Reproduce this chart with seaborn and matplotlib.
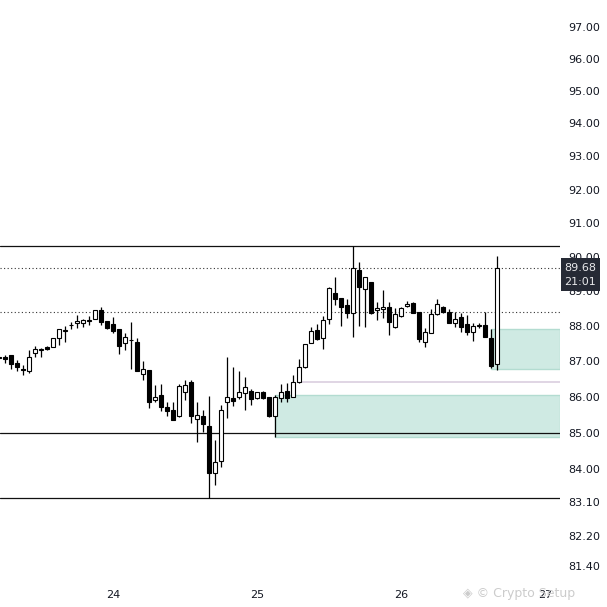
import matplotlib
matplotlib.use("Agg")
import matplotlib.pyplot as plt
from matplotlib.patches import Rectangle
from matplotlib.ticker import FixedLocator, FixedFormatter, NullLocator, NullFormatter
import pandas as pd
import seaborn as sns

# hourly candles, hour offset from the 24th 00:00
hours = list(range(-19, 65))
opens = [87.12, 87.12, 87.18, 86.96, 86.78, 86.73, 87.24, 87.33, 87.41, 87.40,
         87.65, 87.86, 88.02, 88.08, 88.08, 88.15, 88.20, 88.46, 88.15, 88.06,
         87.91, 87.53, 87.61, 87.55, 86.63, 86.75, 85.92, 86.05, 85.72, 85.63,
         85.45, 86.14, 86.42, 85.37, 85.47, 85.19, 83.88, 84.23, 85.85, 85.96,
         86.00, 86.10, 86.17, 85.96, 86.12, 86.00, 85.45, 85.96, 86.16, 86.00,
         86.40, 86.83, 87.53, 87.89, 87.65, 88.20, 88.95, 88.80, 88.61, 88.37,
         89.62, 89.06, 89.27, 88.46, 88.48, 88.56, 87.98, 88.30, 88.57, 88.66,
         88.40, 87.56, 87.81, 88.34, 88.54, 88.40, 88.10, 88.25, 88.06, 87.84,
         88.00, 88.03, 87.65, 86.92]
highs = [87.15, 87.18, 87.18, 87.03, 86.89, 87.32, 87.42, 87.37, 87.43, 87.67,
         87.92, 88.00, 88.12, 88.32, 88.19, 88.29, 88.47, 88.56, 88.16, 88.25,
         87.92, 87.80, 88.13, 87.65, 87.01, 86.76, 86.34, 86.36, 85.85, 85.86,
         86.36, 86.47, 86.47, 85.86, 85.63, 86.02, 84.80, 85.77, 87.12, 86.83,
         86.72, 86.56, 86.21, 86.14, 86.15, 86.00, 86.05, 86.35, 86.38, 86.61,
         87.06, 87.50, 87.98, 88.06, 88.30, 89.14, 89.43, 88.80, 88.77, 90.33,
         89.87, 89.42, 89.28, 88.70, 89.04, 88.69, 88.53, 88.56, 88.72, 88.68,
         88.41, 87.94, 88.48, 88.77, 88.58, 88.48, 88.40, 88.37, 88.32, 88.10,
         88.10, 88.40, 87.91, 90.04]
lows = [87.08, 86.96, 86.79, 86.73, 86.61, 86.68, 87.13, 87.13, 87.33, 87.39,
        87.46, 87.56, 87.91, 87.96, 87.97, 88.03, 88.19, 88.03, 87.93, 87.80,
        87.21, 87.32, 86.77, 86.72, 86.47, 85.68, 85.84, 85.60, 85.47, 85.36,
        85.43, 85.91, 85.28, 84.74, 85.03, 83.21, 83.57, 84.06, 85.42, 85.75,
        85.93, 85.63, 85.77, 85.94, 85.95, 85.44, 84.89, 85.84, 85.85, 85.98,
        86.38, 86.81, 87.52, 87.60, 87.35, 88.06, 88.61, 88.00, 88.24, 87.68,
        88.00, 87.98, 88.36, 88.18, 88.22, 87.75, 87.95, 88.27, 88.56, 88.37,
        87.56, 87.41, 87.80, 88.33, 88.38, 88.08, 87.97, 87.84, 87.75, 87.58,
        87.94, 87.70, 86.80, 86.75]
closes = [87.10, 87.07, 86.93, 86.83, 86.76, 87.12, 87.35, 87.36, 87.36, 87.66,
          87.91, 87.88, 88.04, 88.15, 88.18, 88.17, 88.46, 88.13, 87.94, 87.87,
          87.43, 87.68, 87.59, 86.73, 86.77, 85.86, 86.00, 85.70, 85.61, 85.36,
          86.31, 86.32, 85.47, 85.50, 85.24, 83.88, 84.20, 85.63, 85.98, 85.89,
          86.13, 86.28, 85.95, 86.12, 85.96, 85.45, 85.99, 86.12, 85.96, 86.40,
          86.83, 87.48, 87.85, 87.62, 88.18, 89.09, 88.77, 88.56, 88.39, 89.67,
          89.14, 89.41, 88.37, 88.51, 88.55, 88.11, 88.34, 88.53, 88.63, 88.39,
          87.63, 87.82, 88.34, 88.63, 88.40, 88.10, 88.20, 87.98, 87.84, 88.01,
          88.02, 87.70, 86.87, 89.68]

# horizontal levels
solid_levels = [90.33, 85.00, 83.21]
dotted_levels = [89.68, 88.41]
pink_level = 86.40
pink_start = 31

# shaded zones
zone_start = [27, 63]
zone_low = [84.88, 86.77]
zone_high = [86.05, 87.92]

# axis labels
price_ticks = [97, 96, 95, 94, 93, 92, 91, 90, 89, 88, 87, 86, 85, 84, 83.10, 82.20, 81.40]
day_ticks = [0, 24, 48, 72]
day_labels = ["24", "25", "26", "27"]
last_price = "89.68"
countdown = "21:01"

sns.set_style("white")
plt.rcParams["font.family"] = ["DejaVu Sans"]

df = pd.DataFrame({"h": hours, "o": opens, "hi": highs, "lo": lows, "c": closes})
df["bull"] = df["c"] >= df["o"]
df["bottom"] = df[["o", "c"]].min(axis=1)
df["size"] = (df["c"] - df["o"]).abs().clip(lower=0.015)

fig = plt.figure(figsize=(6.07, 6.07), dpi=100)
ax = fig.add_axes([0, 24 / 607, 560 / 607, 583 / 607])
ax.set_yscale("log")
x0, x1 = -113 / 6, 447 / 6
ax.set_xlim(x0, x1)
ax.set_ylim(80.94, 97.856)

# zones
for s, lo, hi in zip(zone_start, zone_low, zone_high):
    ax.add_patch(Rectangle((s, lo), x1 - s, hi - lo, facecolor="#cfeae3",
                           edgecolor="#b3dcd1", linewidth=1, zorder=1))
ax.hlines(pink_level, pink_start, x1, color="#e0d5e4", linewidth=1.4, zorder=1)

for lv in solid_levels:
    ax.axhline(lv, color="#111111", linewidth=0.9, zorder=2)
for lv in dotted_levels:
    ax.axhline(lv, color="#333333", linewidth=0.8, linestyle=(0, (1, 2.2)), zorder=2)

# candles
ax.vlines(df["h"], df["lo"], df["hi"], color="black", linewidth=0.9, zorder=3)
colors = ["white" if b else "black" for b in df["bull"]]
ax.bar(df["h"], df["size"], bottom=df["bottom"], width=0.62, color=colors,
       edgecolor="black", linewidth=0.8, zorder=4)

# axes styling
for sp in ax.spines.values():
    sp.set_visible(False)
ax.yaxis.tick_right()
ax.yaxis.set_major_locator(FixedLocator(price_ticks))
ax.yaxis.set_major_formatter(FixedFormatter([f"{p:.2f}" for p in price_ticks]))
ax.yaxis.set_minor_locator(NullLocator())
ax.yaxis.set_minor_formatter(NullFormatter())
ax.tick_params(axis="y", length=0, pad=6, labelsize=8, labelcolor="#131722")
ax.set_xticks(day_ticks)
ax.set_xticklabels(day_labels)
ax.tick_params(axis="x", length=0, pad=5, labelsize=8, labelcolor="#131722")
ax.grid(False)

# watermark (sits behind the last day label, as in the source)
fig.text(463 / 607, 1 - 593 / 607, "\u25c8 \u00a9 Crypto Setup", color="#cccccc",
         fontsize=9, ha="left", va="center", zorder=0)

# last price tag
fig.patches.append(Rectangle((561 / 607, 1 - 291 / 607), 39 / 607, 33 / 607,
                             transform=fig.transFigure, facecolor="#262a35",
                             edgecolor="none", zorder=5))
fig.text(580 / 607, 1 - 268 / 607, last_price, color="#e8e8ea", fontsize=8,
         ha="center", va="center", zorder=6)
fig.text(580 / 607, 1 - 282 / 607, countdown, color="#e8e8ea", fontsize=8,
         ha="center", va="center", zorder=6)

fig.savefig("out.png", dpi=100)
